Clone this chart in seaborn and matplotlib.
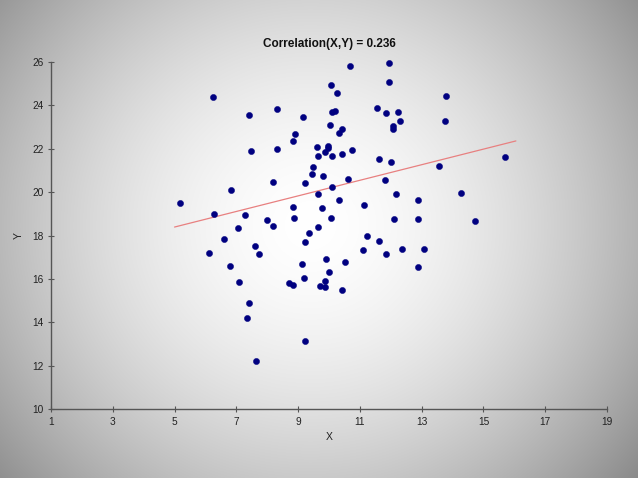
import numpy as np
import pandas as pd
import matplotlib
matplotlib.use("Agg")
import matplotlib.pyplot as plt
import seaborn as sns

x_vals = [6.25, 7.41, 8.31, 9.15, 8.90, 8.83, 9.60, 9.64, 9.49, 9.44,
          7.48, 8.33, 8.19, 9.21, 6.84, 5.19, 8.83, 9.64, 10.67, 11.93,
          11.93, 10.07, 10.27, 13.79, 10.09, 10.19, 11.54, 11.83, 12.22, 12.31,
          13.75, 10.03, 10.43, 10.31, 12.07, 12.06, 9.97, 9.98, 9.88, 10.10,
          10.43, 10.76, 11.63, 12.00, 13.57, 9.81, 10.60, 11.82, 10.11, 12.18,
          12.87, 10.31, 11.13, 9.77, 14.28, 15.71, 14.73, 6.28, 7.28, 7.99,
          8.19, 8.88, 9.64, 7.04, 6.59, 9.34, 9.23, 6.13, 7.59, 7.74,
          6.79, 9.13, 9.19, 7.10, 8.69, 8.82, 9.70, 7.41, 7.35, 9.23,
          7.65, 10.05, 12.10, 12.88, 11.23, 11.62, 11.09, 12.35, 13.07, 11.86,
          9.90, 10.53, 12.87, 10.01, 9.88, 9.86, 10.43]
y_vals = [24.38, 23.54, 23.85, 23.48, 22.67, 22.37, 22.09, 21.66, 21.14, 20.85,
          21.91, 21.99, 20.48, 20.42, 20.10, 19.48, 19.33, 19.93, 25.81, 25.94,
          25.10, 24.94, 24.57, 24.43, 23.71, 23.75, 23.88, 23.67, 23.68, 23.29,
          23.26, 23.11, 22.91, 22.74, 23.07, 22.92, 22.14, 22.05, 21.83, 21.65,
          21.76, 21.96, 21.51, 21.39, 21.19, 20.74, 20.60, 20.54, 20.25, 19.93,
          19.62, 19.64, 19.42, 19.25, 19.94, 21.62, 18.65, 18.99, 18.94, 18.71,
          18.42, 18.79, 18.41, 18.34, 17.82, 18.10, 17.68, 17.18, 17.50, 17.13,
          16.59, 16.70, 16.02, 15.86, 15.81, 15.72, 15.68, 14.89, 14.18, 13.12,
          12.21, 18.79, 18.76, 18.76, 17.99, 17.75, 17.31, 17.39, 17.38, 17.13,
          16.90, 16.79, 16.53, 16.33, 15.89, 15.64, 15.51]
fit_x = [5.0, 16.05]
fit_y = [18.39, 22.36]
x_ticks = [1, 3, 5, 7, 9, 11, 13, 15, 17, 19]
y_ticks = [10, 12, 14, 16, 18, 20, 22, 24, 26]
title = "Correlation(X,Y) = 0.236"

df = pd.DataFrame({"X": x_vals, "Y": y_vals})

sns.set_style("white")
plt.rcParams["font.family"] = ["Liberation Sans", "DejaVu Sans"]

W, H = 638, 478
fig = plt.figure(figsize=(W / 100, H / 100), dpi=100)

# radial gradient background
bg = fig.add_axes([0, 0, 1, 1], zorder=-10)
yy, xx = np.mgrid[0:H, 0:W]
d = np.sqrt(((xx - 310) / 400.0) ** 2 + ((yy - 225) / 380.0) ** 2)
v = 1.0 - 0.42 * np.clip(d, 0, 1.2) ** 1.7
img = np.dstack([v, v, v])
bg.imshow(np.clip(img, 0, 1), aspect="auto", extent=[0, 1, 0, 1], origin="upper")
bg.axis("off")

ax = fig.add_axes([51 / W, (H - 409) / H, 556 / W, 347 / H])
ax.patch.set_alpha(0)

sns.scatterplot(data=df, x="X", y="Y", ax=ax, color="#000080", s=20,
                edgecolor="#000080", linewidth=0.3, zorder=3, clip_on=False)
sns.lineplot(x=fit_x, y=fit_y, ax=ax, color="#e88080", linewidth=0.9, zorder=2)

ax.set_xlim(1, 19)
ax.set_ylim(10, 26)
ax.set_xticks(x_ticks)
ax.set_yticks(y_ticks)
for s in ["top", "right"]:
    ax.spines[s].set_visible(False)
for s in ["left", "bottom"]:
    ax.spines[s].set_color("#555555")
    ax.spines[s].set_linewidth(1.0)
ax.tick_params(axis="both", direction="inout", length=5, width=0.8,
               color="#555555", labelsize=7.3, labelcolor="#222222", pad=3,
               left=True, bottom=True)
ax.set_xlabel("X", fontsize=7.5, color="#222222", labelpad=4)
ax.set_ylabel("Y", fontsize=7.5, color="#222222", labelpad=6)
ax.set_title(title, fontsize=8.5, fontweight="bold", color="#111111", pad=11)

fig.savefig("out.png", dpi=100)
